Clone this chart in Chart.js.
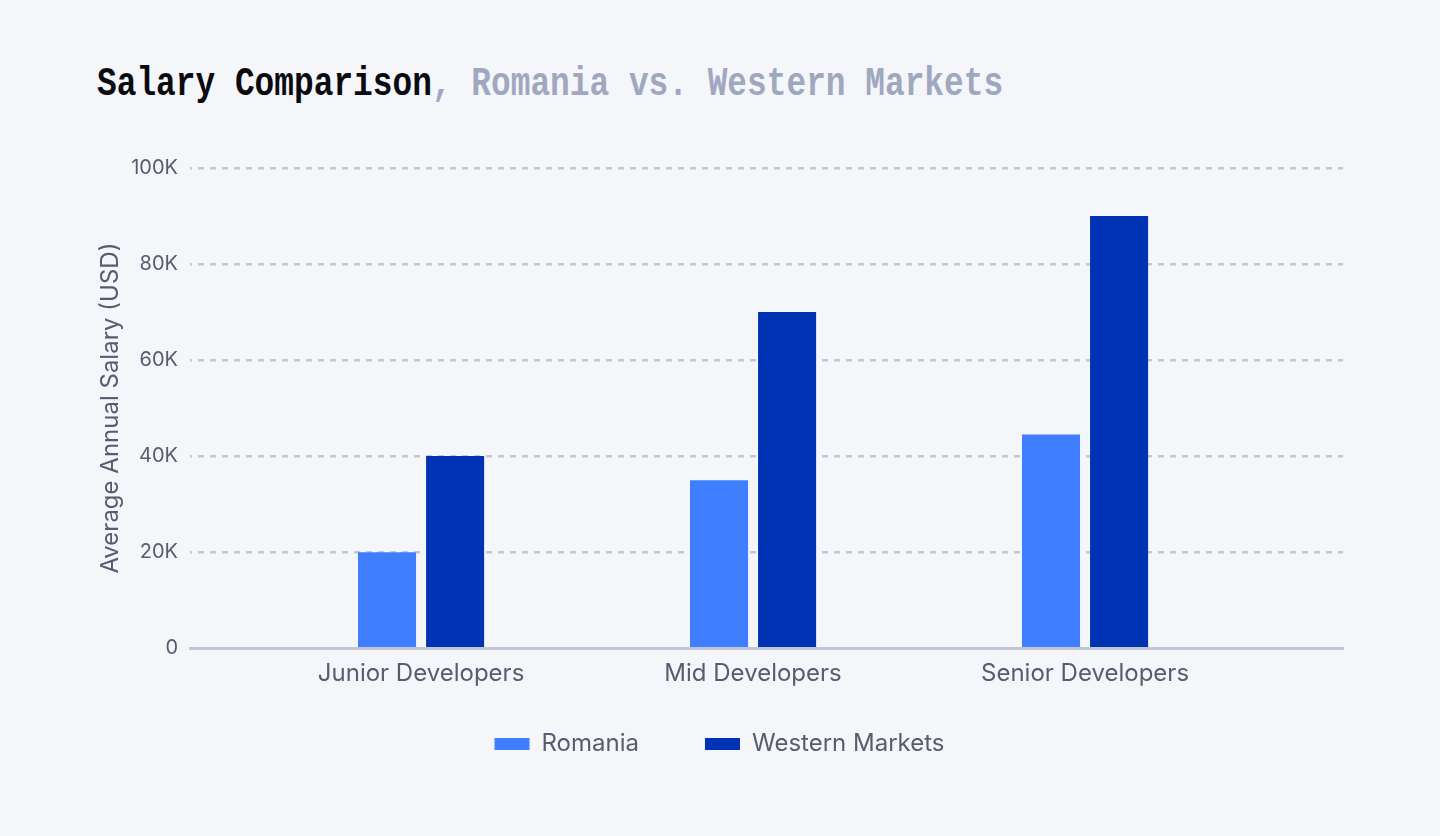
<!DOCTYPE html>
<html>
<head>
<meta charset="utf-8">
<script src="https://cdn.jsdelivr.net/npm/chart.js@4"></script>
<style>
  html, body { margin: 0; padding: 0; background: #f4f6fa; }
  #wrap { position: relative; width: 1440px; height: 836px; }
  #title {
    position: absolute; left: 97px; top: 61px; margin: 0;
    font-family: "Liberation Mono", "DejaVu Sans Mono", monospace;
    font-weight: 700; font-size: 40px; line-height: 48px;
    white-space: nowrap; transform-origin: 0 0;
  }
  #title .main { color: #0b0b0f; }
  #title .sub { color: #a0a8c0; }
  canvas { position: absolute; left: 0; top: 0; }
</style>
</head>
<body>
<div id="wrap">
  <h1 id="title"><span class="main">Salary Comparison</span><span class="sub">, Romania vs. Western Markets</span></h1>
  <canvas id="salaryChart" width="1440" height="836"></canvas>
</div>
<script>
// données du graphique
const levels = ['Junior Developers', 'Mid Developers', 'Senior Developers'];
const romania = [20000, 35000, 44500];
const western = [40000, 70000, 90000];
const yTicks = [0, 20000, 40000, 60000, 80000, 100000];

// titre compressé à la largeur du modèle
const title = document.getElementById('title');
title.style.transform = 'scaleX(' + (906 / title.scrollWidth) + ')';

const font = 'Inter, "Noto Sans", sans-serif';
const textColor = '#585c6e';

// remonte la légende sous l'axe (espacement horizontal large)
const legendNudge = {
    id: 'legendNudge',
    afterLayout(chart) {
        const lg = chart.legend;
        if (!lg) return;
        const d = lg.top + 66 + 12 - 744;
        lg.top -= d;
        lg.bottom -= d;
    }
};

const ctx = document.getElementById('salaryChart').getContext('2d');
new Chart(ctx, {
    type: 'bar',
    data: {
        labels: levels,
        datasets: [
            {
                label: 'Romania',
                data: romania,
                backgroundColor: '#3f7fff'
            },
            {
                label: 'Western Markets',
                data: western,
                backgroundColor: '#0032b4'
            }
        ]
    },
    options: {
        responsive: false,
        animation: false,
        categoryPercentage: 0.41,
        barPercentage: 0.853,
        layout: { padding: { top: 168, left: 96, right: 97, bottom: 37 } },
        plugins: {
            tooltip: { enabled: false },
            legend: {
                position: 'bottom',
                labels: {
                    boxWidth: 35,
                    boxHeight: 12,
                    padding: 66,
                    color: textColor,
                    font: { family: font, size: 24 }
                }
            }
        },
        scales: {
            x: {
                grid: { display: false, drawTicks: false },
                border: { display: true, color: '#c0c6d4', width: 3 },
                ticks: {
                    color: textColor,
                    padding: 11,
                    autoSkip: false,
                    maxRotation: 0,
                    font: { family: font, size: 24 }
                },
                // décalage des catégories comme sur le modèle
                afterBuildTicks: (s) => { s._startValue = -0.696; s._valueRange = 3.473; }
            },
            y: {
                min: 0,
                max: 100000,
                afterBuildTicks: (s) => { s.ticks = yTicks.map(v => ({ value: v })); },
                grid: {
                    color: (c) => c.tick && c.tick.value === 0 ? 'rgba(0,0,0,0)' : '#c2c7d6',
                    lineWidth: 2.5,
                    drawTicks: false
                },
                border: { display: false, dash: [6, 6], dashOffset: 4 },
                ticks: {
                    color: textColor,
                    padding: 12,
                    font: { family: font, size: 20 },
                    callback: (v) => v === 0 ? '0' : (v / 1000) + 'K'
                },
                title: {
                    display: true,
                    text: 'Average Annual Salary (USD)',
                    color: textColor,
                    padding: { top: 0, bottom: 0 },
                    font: { family: font, size: 24 }
                },
                afterFit: (s) => { s.width = 94; }
            }
        }
    },
    plugins: [legendNudge]
});
</script>
</body>
</html>
